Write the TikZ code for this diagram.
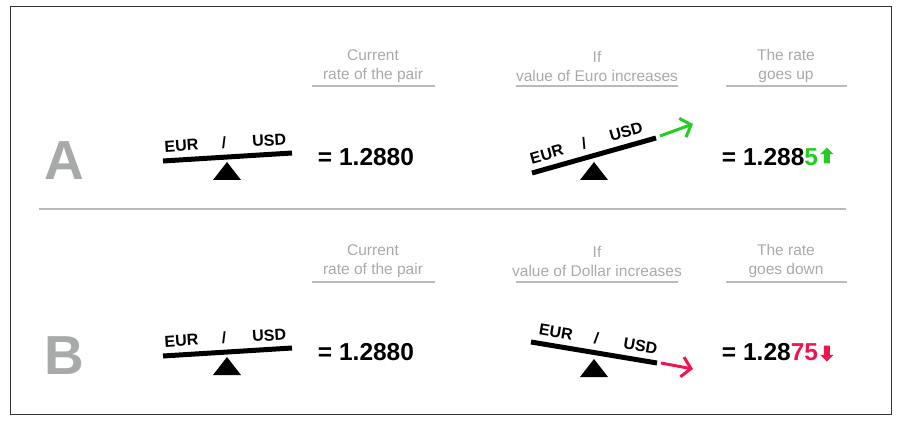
\documentclass[tikz,border=0pt]{standalone}
\usepackage{fontspec}
\setmainfont{Liberation Sans}
\usetikzlibrary{positioning}
\usetikzlibrary{arrows.meta}
\usetikzlibrary{shapes.arrows}

\definecolor{headgray}{RGB}{168,170,170}
\definecolor{rulegray}{RGB}{185,187,187}
\definecolor{upgreen}{RGB}{36,204,36}
\definecolor{downred}{RGB}{240,20,80}

\begin{document}
\begin{tikzpicture}[x=1pt,y=-1pt]

\def\numfont{\bfseries\fontsize{24.5}{26}\selectfont}
\def\curfont{\bfseries\fontsize{16}{18}\selectfont}
\def\headfont{\fontsize{15.5}{19}\selectfont}
\def\bigfont{\bfseries\fontsize{55}{60}\selectfont}

\tikzset{
  beam/.style={line width=5pt},
  cur/.style={font=\curfont,inner sep=1pt,above=5pt,sloped},
  head/.style={font=\headfont,text=headgray,align=center},
  hrule/.style={rulegray,line width=1.5pt},
  num/.style={font=\numfont},
  moveup/.style={upgreen,line width=3pt,-{Straight Barb[length=9pt,width=20pt]}},
  movedown/.style={downred,line width=3pt,-{Straight Barb[length=9pt,width=20pt]}},
  tick/.style={single arrow,draw=none,inner sep=2.8pt,minimum height=16pt,
    single arrow head extend=3.6pt,single arrow head indent=0pt},
}

\useasboundingbox (0,0) rectangle (900,422);
\draw[black!80,line width=1pt] (10,7) rectangle (891,414);
\draw[rulegray,line width=1.5pt] (39,209) -- (846,209);

% row A
\node[font=\bigfont,text=headgray] (A) at (64,161) {A};

\node[head] (hA1) at (373,66) {Current\\rate of the pair};
\node[head] (hA2) at (597,66) {If\\value of Euro increases};
\node[head] (hA3) at (786,66) {The rate\\goes up};
\draw[hrule] (312,86) -- (435,86);
\draw[hrule] (516,86) -- (678,86);
\draw[hrule] (726,86) -- (847,86);

\coordinate (lA1) at (163,161);
\coordinate (lA2) at (292,153);
\draw[beam] (lA1) -- (lA2)
  node[cur,pos=.15]{EUR} node[cur,pos=.48]{/} node[cur,pos=.83]{USD};
\fill (227,162) -- (241,180) -- (213,180) -- cycle;
\node[num] (rA1) at (366,157) {= 1.2880};

\coordinate (rA1b) at (532,173);
\coordinate (rA2b) at (656,138);
\draw[beam] (rA1b) -- (rA2b)
  node[cur,pos=.15]{EUR} node[cur,pos=.45]{/} node[cur,pos=.79]{USD};
\fill (594,162) -- (608,180) -- (580,180) -- cycle;
\coordinate (gA1) at (660,136);
\coordinate (gA2) at (693,124);
\draw[moveup] (gA1) -- (gA2);
\node[num] (rA2) at (770,157) {= 1.288\textcolor{upgreen}{5}};
\node[tick,fill=upgreen,shape border rotate=90,right=2pt of rA2] (upA) {};

% row B
\node[font=\bigfont,text=headgray] (B) at (64,356) {B};

\node[head] (hB1) at (373,261) {Current\\rate of the pair};
\node[head] (hB2) at (597,261) {If\\value of Dollar increases};
\node[head] (hB3) at (786,261) {The rate\\goes down};
\draw[hrule] (312,282) -- (435,282);
\draw[hrule] (516,282) -- (678,282);
\draw[hrule] (726,282) -- (847,282);

\coordinate (lB1) at (163,356);
\coordinate (lB2) at (292,348);
\draw[beam] (lB1) -- (lB2)
  node[cur,pos=.15]{EUR} node[cur,pos=.48]{/} node[cur,pos=.83]{USD};
\fill (227,357) -- (241,375) -- (213,375) -- cycle;
\node[num] (rB1) at (366,352) {= 1.2880};

\coordinate (rB1b) at (531,342);
\coordinate (rB2b) at (657,363);
\draw[beam] (rB1b) -- (rB2b)
  node[cur,pos=.18]{EUR} node[cur,pos=.5]{/} node[cur,pos=.85]{USD};
\fill (594,359) -- (608,377) -- (580,377) -- cycle;
\coordinate (gB1) at (661,363);
\coordinate (gB2) at (693,369);
\draw[movedown] (gB1) -- (gB2);
\node[num] (rB2) at (770,352) {= 1.28\textcolor{downred}{75}};
\node[tick,fill=downred,shape border rotate=270,right=2pt of rB2] (downB) {};

\end{tikzpicture}
\end{document}
